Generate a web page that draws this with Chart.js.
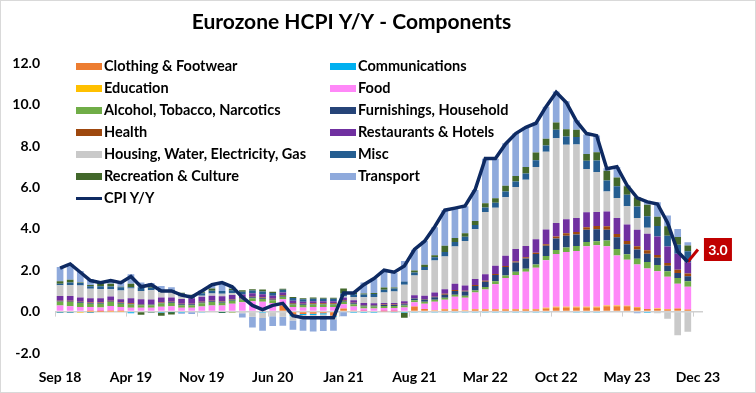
<!DOCTYPE html>
<html>
<head>
<meta charset="utf-8">
<script src="https://cdn.jsdelivr.net/npm/chart.js@4.4.1/dist/chart.umd.min.js"></script>
<style>
    body { margin: 0; background: #fff; }
    #wrap { position: relative; width: 756px; height: 393px; }
    #legend { position: absolute; left: 0; top: 0; font: bold 14.5px Lato, sans-serif; color: #000; }
    .item { position: absolute; height: 18px; line-height: 18px; white-space: nowrap; }
    .sw { position: absolute; left: 0; width: 26px; }
    .txt { position: absolute; left: 28px; top: 0; }
</style>
</head>
<body>
<div id="wrap">
    <canvas id="hicpChart" width="756" height="393"></canvas>
    <div id="legend"></div>
</div>
<script>
const months = [
    "Sep 18", "Oct 18", "Nov 18", "Dec 18",
    "Jan 19", "Feb 19", "Mar 19", "Apr 19", "May 19", "Jun 19", "Jul 19", "Aug 19", "Sep 19", "Oct 19", "Nov 19", "Dec 19",
    "Jan 20", "Feb 20", "Mar 20", "Apr 20", "May 20", "Jun 20", "Jul 20", "Aug 20", "Sep 20", "Oct 20", "Nov 20", "Dec 20",
    "Jan 21", "Feb 21", "Mar 21", "Apr 21", "May 21", "Jun 21", "Jul 21", "Aug 21", "Sep 21", "Oct 21", "Nov 21", "Dec 21",
    "Jan 22", "Feb 22", "Mar 22", "Apr 22", "May 22", "Jun 22", "Jul 22", "Aug 22", "Sep 22", "Oct 22", "Nov 22", "Dec 22",
    "Jan 23", "Feb 23", "Mar 23", "Apr 23", "May 23", "Jun 23", "Jul 23", "Aug 23", "Sep 23", "Oct 23", "Nov 23", "Dec 23"
];

// contributions to headline HICP, percentage points (Sep 18 .. Nov 23)
const clothing = [
    -0.02, -0.02, 0.00, -0.02,
    0.01, 0.00, 0.00, 0.00, 0.00, -0.02, -0.03, 0.00, 0.00, 0.00, 0.00, 0.00,
    0.00, 0.00, 0.00, 0.00, -0.03, 0.00, 0.30, -0.15, -0.12, -0.10, -0.08, -0.20,
    0.15, 0.05, 0.03, 0.00, 0.02, 0.02, -0.03, 0.25, 0.12, 0.05, 0.10, 0.10,
    0.05, 0.10, 0.10, 0.10, 0.10, 0.10, 0.10, 0.10, 0.15, 0.20, 0.20, 0.20,
    0.20, 0.20, 0.26, 0.26, 0.26, 0.20, 0.13, 0.13, 0.10, 0.15, 0.10
];
const communications = [
    -0.03, -0.03, -0.03, -0.03,
    -0.03, -0.03, -0.03, -0.08, -0.03, -0.02, -0.02, -0.02, -0.05, -0.03, -0.04, -0.03,
    -0.02, -0.02, -0.03, -0.03, -0.03, -0.03, -0.03, -0.08, -0.05, -0.06, -0.06, -0.05,
    -0.03, -0.05, -0.05, -0.05, -0.03, -0.02, -0.02, -0.02, -0.02, -0.02, -0.02, -0.02,
    -0.02, -0.02, -0.02, -0.02, -0.02, -0.02, -0.02, -0.02, -0.02, -0.03, -0.03, -0.02,
    -0.02, -0.02, 0.00, 0.00, 0.00, 0.00, -0.06, 0.00, 0.00, 0.00, 0.00
];
const education = [
    -0.01, -0.01, -0.02, 0.01,
    0.01, 0.01, 0.01, 0.00, 0.00, -0.02, 0.00, 0.00, 0.00, 0.00, 0.00, 0.00,
    0.00, -0.02, 0.00, 0.00, 0.00, 0.00, 0.00, 0.00, 0.00, 0.00, 0.00, 0.00,
    0.00, 0.00, 0.00, 0.00, 0.00, 0.00, 0.00, 0.00, 0.01, 0.02, 0.02, 0.02,
    0.02, 0.02, 0.02, 0.02, 0.02, 0.02, 0.02, 0.02, 0.03, 0.03, 0.03, 0.03,
    0.03, 0.03, 0.03, 0.03, 0.02, 0.02, 0.00, 0.02, 0.02, 0.00, 0.00
];
const food = [
    0.30, 0.26, 0.22, 0.21,
    0.18, 0.26, 0.21, 0.18, 0.18, 0.18, 0.23, 0.26, 0.18, 0.18, 0.25, 0.30,
    0.30, 0.38, 0.45, 0.50, 0.48, 0.42, 0.30, 0.22, 0.20, 0.22, 0.22, 0.22,
    0.20, 0.20, 0.12, 0.15, 0.15, 0.15, 0.20, 0.20, 0.25, 0.40, 0.45, 0.60,
    0.60, 0.80, 0.95, 1.20, 1.50, 1.65, 1.80, 2.00, 2.30, 2.55, 2.65, 2.70,
    2.93, 2.97, 2.87, 2.42, 2.22, 2.06, 1.95, 1.80, 1.56, 1.20, 1.10
];
const alcohol = [
    0.17, 0.20, 0.20, 0.16,
    0.18, 0.19, 0.16, 0.16, 0.13, 0.13, 0.16, 0.16, 0.13, 0.13, 0.15, 0.16,
    0.13, 0.15, 0.13, 0.14, 0.13, 0.13, 0.12, 0.12, 0.12, 0.12, 0.12, 0.12,
    0.12, 0.10, 0.10, 0.10, 0.10, 0.10, 0.10, 0.10, 0.10, 0.10, 0.10, 0.10,
    0.10, 0.10, 0.12, 0.15, 0.13, 0.15, 0.15, 0.16, 0.20, 0.20, 0.22, 0.24,
    0.20, 0.20, 0.27, 0.32, 0.27, 0.27, 0.32, 0.30, 0.27, 0.27, 0.27
];
const furnishings = [
    0.03, 0.03, 0.03, 0.03,
    0.03, 0.03, 0.03, 0.03, 0.03, 0.03, 0.03, 0.03, 0.04, 0.04, 0.04, 0.04,
    0.04, 0.04, 0.04, 0.05, 0.04, 0.04, 0.05, 0.04, 0.03, 0.03, 0.03, 0.03,
    0.06, 0.05, 0.05, 0.05, 0.05, 0.05, 0.06, 0.08, 0.10, 0.12, 0.15, 0.18,
    0.20, 0.22, 0.25, 0.30, 0.40, 0.45, 0.50, 0.50, 0.50, 0.55, 0.56, 0.55,
    0.60, 0.58, 0.53, 0.56, 0.48, 0.45, 0.40, 0.35, 0.27, 0.24, 0.24
];
const health = [
    0.03, 0.03, 0.03, 0.03,
    0.03, 0.03, 0.03, 0.03, 0.03, 0.02, 0.02, 0.02, 0.03, 0.03, 0.03, 0.03,
    0.03, 0.03, 0.03, 0.03, 0.03, 0.03, 0.03, 0.03, 0.03, 0.03, 0.03, 0.03,
    0.03, 0.03, 0.02, 0.02, 0.02, 0.02, 0.02, 0.02, 0.03, 0.03, 0.04, 0.04,
    0.04, 0.04, 0.05, 0.05, 0.05, 0.05, 0.05, 0.06, 0.07, 0.10, 0.12, 0.12,
    0.12, 0.15, 0.16, 0.16, 0.16, 0.16, 0.16, 0.13, 0.13, 0.16, 0.13
];
const restaurants = [
    0.22, 0.23, 0.20, 0.21,
    0.20, 0.21, 0.16, 0.24, 0.23, 0.22, 0.24, 0.21, 0.23, 0.27, 0.25, 0.24,
    0.24, 0.20, 0.18, 0.17, 0.16, 0.15, 0.12, 0.12, 0.10, 0.10, 0.10, 0.10,
    0.12, 0.12, 0.10, 0.08, 0.08, 0.08, 0.12, 0.14, 0.15, 0.20, 0.22, 0.30,
    0.25, 0.30, 0.32, 0.40, 0.50, 0.60, 0.55, 0.65, 0.72, 0.65, 0.68, 0.68,
    0.72, 0.68, 0.71, 0.77, 0.80, 0.80, 0.80, 0.90, 0.80, 0.77, 0.55
];
const housing = [
    0.52, 0.53, 0.58, 0.45,
    0.45, 0.35, 0.42, 0.48, 0.40, 0.45, 0.27, 0.30, 0.12, 0.02, 0.05, 0.10,
    0.12, 0.10, -0.05, -0.22, -0.25, -0.20, -0.22, -0.20, -0.20, -0.20, -0.18, -0.12,
    0.05, 0.15, 0.27, 0.30, 0.50, 0.55, 0.80, 0.95, 1.25, 1.55, 1.58, 1.80,
    2.15, 2.40, 3.00, 2.80, 2.82, 3.00, 3.20, 3.50, 3.75, 4.10, 3.60, 3.55,
    2.09, 1.93, 0.97, 0.97, 0.88, 0.56, 0.29, -0.08, -0.35, -1.14, -0.97
];
const misc = [
    0.08, 0.12, 0.12, 0.12,
    0.13, 0.13, 0.16, 0.06, 0.18, 0.12, 0.05, 0.08, 0.13, 0.12, 0.12, 0.14,
    0.13, 0.13, 0.13, 0.13, 0.13, 0.13, 0.13, 0.13, 0.12, 0.12, 0.12, 0.12,
    0.14, 0.14, 0.14, 0.15, 0.14, 0.15, 0.15, 0.15, 0.15, 0.15, 0.22, 0.22,
    0.20, 0.20, 0.22, 0.24, 0.28, 0.26, 0.30, 0.32, 0.30, 0.40, 0.40, 0.37,
    0.40, 0.56, 0.53, 0.56, 0.56, 0.56, 0.56, 0.50, 0.52, 0.44, 0.53
];
const recreation = [
    0.12, 0.14, 0.02, 0.07,
    0.16, 0.13, 0.02, 0.16, -0.12, 0.08, -0.15, -0.12, 0.05, 0.03, 0.05, 0.10,
    -0.05, 0.07, 0.07, 0.06, 0.10, 0.06, 0.05, 0.05, 0.05, 0.06, 0.05, 0.05,
    0.25, 0.10, 0.05, 0.05, 0.10, 0.05, -0.25, 0.10, 0.10, 0.10, 0.30, 0.20,
    0.18, 0.20, 0.20, 0.22, 0.28, 0.27, 0.32, 0.38, 0.33, 0.35, 0.35, 0.35,
    0.32, 0.40, 0.48, 0.43, 0.40, 0.45, 0.55, 0.45, 0.45, 0.37, 0.27
];
const transport = [
    0.68, 0.76, 0.56, 0.27,
    0.02, 0.16, 0.22, 0.46, 0.22, 0.15, 0.24, 0.12, -0.05, -0.08, 0.08, 0.20,
    0.44, 0.10, -0.20, -0.52, -0.62, -0.47, -0.43, -0.45, -0.55, -0.60, -0.62, -0.55,
    -0.20, 0.00, 0.52, 0.70, 0.80, 0.70, 1.00, 1.00, 1.15, 1.35, 1.72, 1.45,
    1.30, 1.50, 2.15, 1.90, 2.05, 2.05, 1.90, 1.45, 1.55, 1.50, 1.35, 0.45,
    0.95, 0.81, 0.12, 0.50, 0.05, -0.08, 0.20, 0.70, 0.52, 0.39, 0.16
];

// headline HICP y/y, %
const cpi = [
    2.1, 2.3, 1.9, 1.5,
    1.4, 1.5, 1.4, 1.7, 1.2, 1.3, 1.0, 1.0, 0.8, 0.7, 1.0, 1.3,
    1.4, 1.2, 0.7, 0.3, 0.1, 0.3, 0.4, -0.2, -0.3, -0.3, -0.3, -0.3,
    0.9, 0.9, 1.3, 1.6, 2.0, 1.9, 2.2, 3.0, 3.4, 4.1, 4.9, 5.0,
    5.1, 5.9, 7.4, 7.4, 8.1, 8.6, 8.9, 9.1, 9.9, 10.6, 10.1, 9.2,
    8.6, 8.5, 6.9, 7.0, 6.1, 5.5, 5.3, 5.2, 4.3, 2.9, 2.4
];
const dec23Estimate = 3.0;

const seriesNames = [
    "Clothing & Footwear", "Communications", "Education", "Food",
    "Alcohol, Tobacco, Narcotics", "Furnishings, Household", "Health", "Restaurants & Hotels",
    "Housing, Water, Electricity, Gas", "Misc", "Recreation & Culture", "Transport"
];
const seriesData = [
    clothing, communications, education, food, alcohol, furnishings,
    health, restaurants, housing, misc, recreation, transport
];
const seriesColors = [
    "#ED7D31", "#00B0F0", "#FFC000", "#FF88F8", "#70AD47", "#264478",
    "#9E480E", "#7030A0", "#C9C9C9", "#255E91", "#43682B", "#8FAADC"
];
const cpiName = "CPI Y/Y";
const cpiColor = "#0E2A62";
const estimateColor = "#C00000";

const fontFamily = "Lato, 'Open Sans', sans-serif";

const barSets = seriesNames.map((name, i) => ({
    type: "bar",
    label: name,
    data: seriesData[i],
    backgroundColor: seriesColors[i],
    borderWidth: 0,
    barPercentage: 0.66,
    categoryPercentage: 1.0,
    order: 2
}));

const estimateLine = months.map((m, i) => i === cpi.length - 1 ? cpi[i] : (i === cpi.length ? dec23Estimate : null));

const axisMarks = {
    id: "axisMarks",
    beforeDatasetsDraw(chart) {
        const { ctx, scales: { x, y } } = chart;
        const y0 = y.getPixelForValue(0);
        const half = (x.getPixelForValue(1) - x.getPixelForValue(0)) / 2;
        ctx.save();
        ctx.strokeStyle = "#D0D0D0";
        ctx.lineWidth = 1;
        for (let i = 0; i < months.length; i += 7) {
            const px = Math.round(x.getPixelForValue(i) - half) + 0.5;
            ctx.beginPath();
            ctx.moveTo(px, y0);
            ctx.lineTo(px, y0 + 5);
            ctx.stroke();
        }
        ctx.restore();
    },
    afterDraw(chart) {
        const { ctx, scales: { x, y } } = chart;
        // estimate label box
        const bx = x.getPixelForValue(months.length - 1) + 6;
        const by = y.getPixelForValue(dec23Estimate);
        ctx.save();
        ctx.fillStyle = estimateColor;
        ctx.fillRect(bx, by - 11.5, 28, 23);
        ctx.fillStyle = "#fff";
        ctx.font = "bold 14px " + fontFamily;
        ctx.textAlign = "center";
        ctx.textBaseline = "middle";
        ctx.fillText(dec23Estimate.toFixed(1), bx + 14, by + 1);
        // chart border
        ctx.strokeStyle = "#D9D9D9";
        ctx.lineWidth = 1;
        ctx.strokeRect(0.5, 0.5, chart.width - 1, chart.height - 1);
        ctx.restore();
    }
};

const chart = new Chart(document.getElementById("hicpChart"), {
    data: {
        labels: months,
        datasets: [
            ...barSets,
            {
                type: "line",
                label: cpiName,
                data: cpi,
                borderColor: cpiColor,
                borderWidth: 3.5,
                pointRadius: 0,
                tension: 0,
                stack: "cpi",
                order: 0
            },
            {
                type: "line",
                label: "Dec 23 estimate",
                data: estimateLine,
                borderColor: estimateColor,
                borderWidth: 3,
                pointRadius: 0,
                tension: 0,
                stack: "estimate",
                order: 1
            }
        ]
    },
    options: {
        responsive: false,
        animation: false,
        layout: { padding: { left: 0, right: 53, top: 0, bottom: 0 } },
        plugins: {
            legend: { display: false },
            tooltip: { enabled: false },
            title: {
                display: true,
                text: "Eurozone HCPI Y/Y - Components",
                color: "#000",
                font: { family: fontFamily, size: 21, weight: "bold", lineHeight: 1.2 },
                padding: { top: 10, bottom: 28 }
            }
        },
        scales: {
            x: {
                stacked: true,
                offset: true,
                grid: { display: false },
                border: { display: false },
                afterFit: (scale) => { scale.height = 40; },
                ticks: {
                    autoSkip: false,
                    maxRotation: 0,
                    minRotation: 0,
                    padding: 8,
                    color: "#000",
                    font: { family: fontFamily, size: 14, weight: "bold" },
                    callback: (value, index) => index % 7 === 0 ? months[index] : ""
                }
            },
            y: {
                stacked: true,
                min: -2,
                max: 12,
                afterFit: (scale) => { scale.width = 55; },
                border: { display: false },
                grid: {
                    drawTicks: false,
                    lineWidth: 1.5,
                    color: (ctx) => ctx.tick && ctx.tick.value === 0 ? "#D0D0D0" : "rgba(0,0,0,0)"
                },
                ticks: {
                    stepSize: 2,
                    padding: 15,
                    color: "#000",
                    font: { family: fontFamily, size: 14, weight: "bold" },
                    callback: (value) => value.toFixed(1)
                }
            }
        }
    },
    plugins: [axisMarks]
});

// legend: two columns, entries in series order, CPI last
const legendBox = document.getElementById("legend");
const legendEntries = seriesNames.map((name, i) => ({ name, color: seriesColors[i], line: false }));
legendEntries.push({ name: cpiName, color: cpiColor, line: true });
legendEntries.forEach((entry, i) => {
    const row = Math.floor(i / 2);
    const col = i % 2;
    const item = document.createElement("div");
    item.className = "item";
    item.style.left = (col === 0 ? 76 : 330) + "px";
    item.style.top = (57 + row * 22) + "px";
    const sw = document.createElement("span");
    sw.className = "sw";
    sw.style.background = entry.color;
    sw.style.top = entry.line ? "7.5px" : "5.5px";
    sw.style.height = entry.line ? "3px" : "7px";
    const txt = document.createElement("span");
    txt.className = "txt";
    txt.textContent = entry.name;
    item.appendChild(sw);
    item.appendChild(txt);
    legendBox.appendChild(item);
});
</script>
</body>
</html>
